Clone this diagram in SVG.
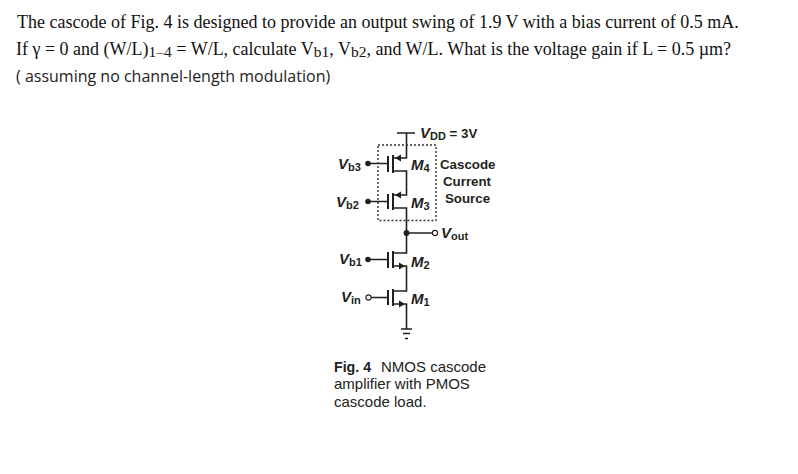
<svg xmlns="http://www.w3.org/2000/svg" width="798" height="474" viewBox="0 0 798 474">
<style>
.q{font:18px "Liberation Serif",serif;fill:#111}
.c{font:15px "Liberation Sans",Arial,sans-serif;fill:#222}
.l{font:bold 13.3px "Liberation Sans",Arial,sans-serif;fill:#231f20}
.i{font-style:italic;font-size:15px}
.s{font-size:11px}
.w{stroke:#231f20;stroke-width:1.6;fill:none}
.g{stroke:#231f20;stroke-width:2;fill:none}
.d{fill:#231f20}
.o{fill:#fff;stroke:#231f20;stroke-width:1.1}
</style>
<rect width="798" height="474" fill="#fff"/>
<g id="question">
<text class="q" x="17" y="28">The cascode of Fig. 4 is designed to provide an output swing of 1.9 V with a bias current of 0.5 mA.</text>
<text class="q" x="16" y="55">If γ = 0 and (W/L)<tspan font-size="15.5" dy="2">1–4</tspan><tspan dy="-2"> = W/L, calculate V</tspan><tspan font-size="15.5" dy="2">b1</tspan><tspan dy="-2">, V</tspan><tspan font-size="15.5" dy="2">b2</tspan><tspan dy="-2">, and W/L. What is the voltage gain if L = 0.5 µm?</tspan></text>
<text x="16" y="82" style="font:16px 'Open Sans',sans-serif;fill:#222">( assuming no channel-length modulation)</text>
</g>
<g id="connectors">
<path class="w" d="M397 133H415M406.5 133V158H393M393 171H406.5V195H393M393 208H406.5V233M406.5 233V253H393M393 266H406.5V291H393M393 304H406.5V329"/>
<path class="w" d="M368 163.5H388M368 201.5H388M368 259.5H388M371 297.5H388M406.5 233H432"/>
<path d="M378 145H436V220.5H378Z" fill="none" stroke="#333" stroke-width="1.4" stroke-dasharray="2 2"/>
<path class="w" d="M401 329H412M403 333.5H410M405 338.5H408"/>
</g>
<g id="M4"><path class="g" d="M388 156V172M393 155V173"/><path class="d" d="M395 158L401 154.5V161.5Z"/><text class="l" x="411" y="170"><tspan class="i">M</tspan><tspan class="s" dy="2">4</tspan></text></g>
<g id="M3"><path class="g" d="M388 194V209M393 193V210"/><path class="d" d="M395 195L401 191.5V198.5Z"/><text class="l" x="411" y="208"><tspan class="i">M</tspan><tspan class="s" dy="2">3</tspan></text></g>
<g id="M2"><path class="g" d="M388 252V268M393 251V268"/><path class="d" d="M405 266L399 262.5V269.5Z"/><text class="l" x="411" y="267"><tspan class="i">M</tspan><tspan class="s" dy="2">2</tspan></text></g>
<g id="M1"><path class="g" d="M388 290V305M393 289V306"/><path class="d" d="M405 304L399 300.5V307.5Z"/><text class="l" x="411" y="304"><tspan class="i">M</tspan><tspan class="s" dy="2">1</tspan></text></g>
<g id="terminals">
<circle class="d" cx="368" cy="163.5" r="2.8"/><circle class="d" cx="368" cy="201.5" r="2.8"/><circle class="d" cx="368" cy="259.5" r="2.8"/>
<circle class="o" cx="368.5" cy="297.5" r="2.6"/><circle class="o" cx="435" cy="233" r="2.6"/><circle class="d" cx="406.5" cy="233" r="2.9"/>
</g>
<g id="labels">
<text class="l" x="420" y="138"><tspan class="i">V</tspan><tspan class="s" dy="2">DD</tspan><tspan dy="-2"> = 3V</tspan></text>
<text class="l" x="338" y="169"><tspan class="i">V</tspan><tspan class="s" dy="2">b3</tspan></text>
<text class="l" x="336" y="207"><tspan class="i">V</tspan><tspan class="s" dy="2">b2</tspan></text>
<text class="l" x="339" y="264"><tspan class="i">V</tspan><tspan class="s" dy="2">b1</tspan></text>
<text class="l" x="341" y="302"><tspan class="i">V</tspan><tspan class="s" dy="2">in</tspan></text>
<text class="l" x="441" y="238"><tspan class="i">V</tspan><tspan class="s" dy="2">out</tspan></text>
<text class="l" x="440" y="169">Cascode</text>
<text class="l" x="443" y="186">Current</text>
<text class="l" x="445" y="203">Source</text>
</g>
<g id="caption">
<text class="c" x="334" y="372"><tspan font-weight="bold" font-size="14.2">Fig. 4</tspan><tspan x="381">NMOS cascode</tspan></text>
<text class="c" x="334" y="389">amplifier with PMOS</text>
<text class="c" x="334" y="407">cascode load.</text>
</g>
</svg>
